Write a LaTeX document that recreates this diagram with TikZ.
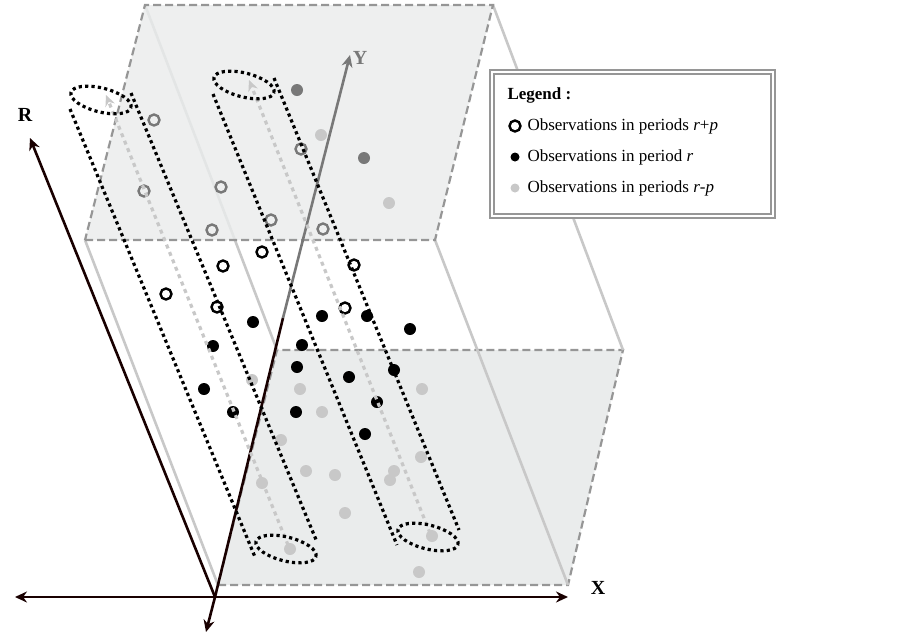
\documentclass[tikz,border=0pt]{standalone}
\usepackage{fontspec}
\setmainfont{Liberation Serif}
\usetikzlibrary{arrows.meta}
\definecolor{planefill}{RGB}{234,236,236}
\definecolor{edgegray}{RGB}{150,150,150}
\definecolor{lightpt}{RGB}{200,200,200}
\definecolor{darkpt}{RGB}{120,120,120}
\tikzset{
  % shaded planes and the lines joining them
  plane/.style={fill=planefill,draw=edgegray,dash pattern=on 8pt off 4pt,line width=2.2pt},
  link/.style={draw=lightpt,line width=2.6pt},
  axis/.style={draw=black!90!red,line width=2.6pt,-{Stealth[length=12pt,width=11pt]}},
  tube/.style={draw=black,line width=3.2pt,dash pattern=on 3.2pt off 3.2pt},
  tubeaxis/.style={draw=lightpt,line width=3.2pt,dash pattern=on 4pt off 4pt,-{Stealth[length=11pt,width=10pt]}},
  openpt/.style={circle,draw=black,line width=2.4pt,minimum size=11pt,inner sep=0pt},
  opengray/.style={openpt,draw=darkpt},
  fullpt/.style={circle,fill=black,minimum size=12pt,inner sep=0pt},
  fullgray/.style={fullpt,fill=darkpt},
  lightgray/.style={fullpt,fill=lightpt},
  axlabel/.style={font=\bfseries\fontsize{20}{24}\selectfont},
  legtext/.style={anchor=west,font=\fontsize{17}{20}\selectfont},
}
\begin{document}
\begin{tikzpicture}[x=1pt,y=-1pt]
\useasboundingbox (0,0) rectangle (902,638);
% planes
\coordinate (b1) at (218,585); \coordinate (b2) at (568,585);
\coordinate (b3) at (623,350); \coordinate (b4) at (277,350);
\coordinate (t1) at (85,240); \coordinate (t2) at (435,240);
\coordinate (t3) at (493,5); \coordinate (t4) at (145,5);
\path[plane] (b1) -- (b2) -- (b3) -- (b4) -- cycle;
\draw[link] (t1) -- (b1) (t2) -- (b2) (t3) -- (b3) (t4) -- (b4);
% axes
\coordinate (O) at (215,597);
\coordinate (xl) at (15,597); \coordinate (xr) at (568,597);
\coordinate (rtip) at (30,138); \coordinate (ybot) at (206,632);
\coordinate (ymid) at (283,318); \coordinate (ytip) at (350,55);
\draw[axis,{Stealth[length=12pt,width=11pt]}-{Stealth[length=12pt,width=11pt]}] (xl) -- (xr);
\draw[axis] (O) -- (rtip);
\draw[axis] (O) -- (ybot);
\draw[line width=2.6pt,black!90!red] (O) -- (ymid);
% lower points
\foreach \p in {(252,380),(300,389),(422,389),(322,412),(281,440),(306,471),(335,475),(421,457),(394,471),(390,480),(262,483),(345,513),(290,549),(432,536),(419,572)}
  \node[lightgray] at \p {};
\foreach \p in {(253,322),(322,316),(367,316),(410,329),(213,346),(302,345),(297,367),(349,377),(394,370),(204,389),(233,412),(296,412),(377,402),(365,434)}
  \node[fullpt] at \p {};
\foreach \p in {(354,265),(262,252),(223,266),(166,294),(217,307),(345,308)}
  \node[openpt] at \p {};
% upper plane over the lower part
\path[plane,fill opacity=0.82] (t1) -- (t2) -- (t3) -- (t4) -- cycle;
\draw[line width=2.6pt,darkpt,-{Stealth[length=12pt,width=11pt]}] (ymid) -- (ytip);
\foreach \p in {(154,120),(144,191),(221,187),(212,230),(271,220),(301,149),(323,229)}
  \node[opengray] at \p {};
\foreach \p in {(297,90),(364,158)} \node[fullgray] at \p {};
\foreach \p in {(321,135),(389,203)} \node[lightgray] at \p {};
% cylinders
\foreach \tx/\ty/\bx/\by in {101/100/286/549, 244/85/428/537}{
  \draw[tubeaxis] (\bx+2,\by-4) -- (\tx+5,\ty-5);
  \draw[tube,rotate around={-14:(\tx,\ty)}] (\tx,\ty) ellipse (31pt and 12pt);
  \draw[tube,rotate around={-14:(\bx,\by)}] (\bx,\by) ellipse (31pt and 12pt);
  \draw[tube] (\tx-31,\ty+9) -- (\bx-31,\by+8);
  \draw[tube] (\tx+30,\ty-7) -- (\bx+31,\by-7);
}
% labels
\node[axlabel] (lblr) at (25,115) {R};
\node[axlabel,darkpt] (lbly) at (360,58) {Y};
\node[axlabel] (lblx) at (598,588) {X};
% legend
\draw[edgegray,line width=1.2pt,fill=white] (490,70) rectangle (775,218);
\draw[edgegray,line width=1.2pt] (494,74) rectangle (771,214);
\node[anchor=west,font=\bfseries\fontsize{17}{20}\selectfont] (legtitle) at (504,95) {Legend :};
\node[openpt] (k1) at (515,126) {};
\node[fullpt,minimum size=9pt] (k2) at (515,157) {};
\node[lightgray,minimum size=9pt] (k3) at (515,188) {};
\node[legtext] at (524,126) {Observations in periods \textit{r}+\textit{p}};
\node[legtext] at (524,157) {Observations in period \textit{r}};
\node[legtext] at (524,188) {Observations in periods \textit{r}-\textit{p}};
\end{tikzpicture}
\end{document}
